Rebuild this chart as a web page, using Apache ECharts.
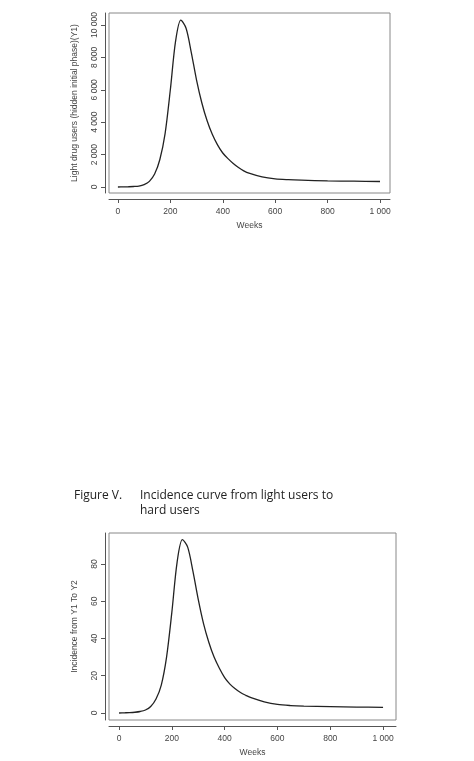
<!DOCTYPE html><html><head><meta charset="utf-8"><script src="https://cdn.jsdelivr.net/npm/echarts@6/dist/echarts.min.js"></script></head><body style="margin:0;background:#fff"><div id="c" style="width:474px;height:761px"></div><script>
const weeks=[0,20,40,60,80,100,120,140,160,180,200,220,240,260,280,300,320,340,360,380,400,420,440,460,480,500,550,600,650,700,800,900,1000];
const lightUsers=[0,5,15,30,60,150,350,800,1700,3300,6000,9000,10300,9800,8300,6600,5200,4100,3250,2600,2100,1750,1450,1200,1000,850,620,500,450,420,380,360,340];
const incidence=[0,0.1,0.2,0.4,0.8,1.6,3.5,7.5,15,30,54,81,93,89,76,61,48,38,30,24,19,15.5,13,11,9.5,8.2,6,4.6,4,3.7,3.4,3.2,3.0];
const xTicks=[0,200,400,600,800,1000];
const yTicks1=[0,2000,4000,6000,8000,10000];
const yTicks2=[0,20,40,60,80];
const fmt=v=>v>=1000?String(v).replace(/\B(?=(\d{3})+(?!\d))/g,' '):String(v);
const F='Liberation Sans';
function xa(i,min,max){return{type:'value',gridIndex:i,min,max,offset:6,name:'Weeks',nameLocation:'middle',nameGap:22,nameTextStyle:{fontSize:8.5,color:'#444',fontFamily:F},
 axisLine:{onZero:false,lineStyle:{color:'#555'}},axisTick:{customValues:xTicks,length:4,lineStyle:{color:'#555'}},axisLabel:{customValues:xTicks,formatter:fmt,fontSize:8.5,color:'#444',fontFamily:F,margin:8},splitLine:{show:false}};}
function ya(i,min,max,ticks,name){return{type:'value',gridIndex:i,min,max,offset:4,name,nameLocation:'middle',nameRotate:90,nameGap:26,nameTextStyle:{fontSize:8.5,color:'#444',fontFamily:F},
 axisLine:{show:true,onZero:false,lineStyle:{color:'#555'}},axisTick:{show:true,customValues:ticks,length:4,lineStyle:{color:'#555'}},axisLabel:{customValues:ticks,formatter:fmt,rotate:90,fontSize:8.5,color:'#444',fontFamily:F,margin:6},splitLine:{show:false}};}
const ch=echarts.init(document.getElementById('c'));
ch.setOption({animation:false,
grid:[{left:109,top:13,width:281,height:180,show:true,borderColor:'#888',borderWidth:1},{left:109,top:533,width:287,height:187,show:true,borderColor:'#888',borderWidth:1}],
xAxis:[xa(0,-34,1038),xa(1,-38,1049)],
yAxis:[ya(0,-370,10740,yTicks1,'Light drug users (hidden initial phase)(Y1)'),ya(1,-3.76,96.6,yTicks2,'Incidence from Y1 To Y2')],
series:[{type:'line',xAxisIndex:0,yAxisIndex:0,smooth:0.3,symbol:'none',lineStyle:{color:'#222',width:1.3},data:weeks.map((w,i)=>[w,lightUsers[i]])},
{type:'line',xAxisIndex:1,yAxisIndex:1,smooth:0.3,symbol:'none',lineStyle:{color:'#222',width:1.3},data:weeks.map((w,i)=>[w,incidence[i]])}],
graphic:[{type:'text',left:74,top:488,style:{text:'Figure V.',font:'12px "Open Sans"',lineHeight:15,fill:'#222'}},
{type:'text',left:140,top:488,style:{text:'Incidence curve from light users to\nhard users',font:'12px "Open Sans"',lineHeight:15,fill:'#222'}}]
});
</script></body></html>
